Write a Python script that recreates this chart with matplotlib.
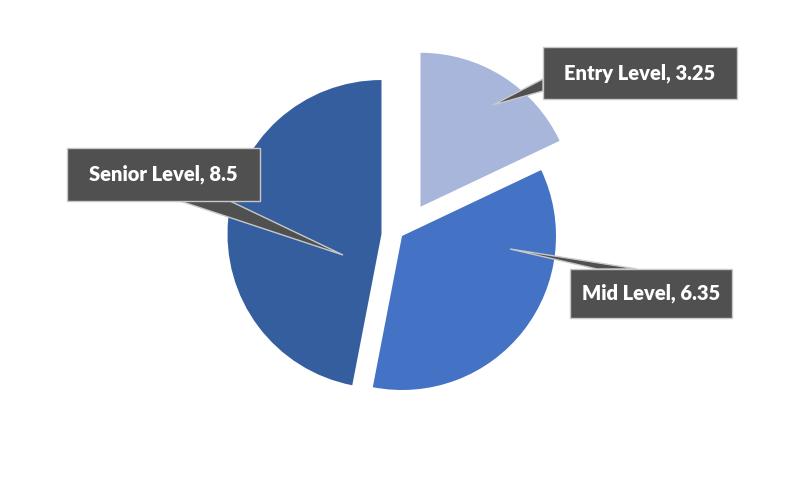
import matplotlib.pyplot as plt
from matplotlib.patches import Rectangle, Polygon

# data
levels = ['Entry Level', 'Mid Level', 'Senior Level']
salaries = [3.25, 6.35, 8.5]
colors = ['#A8B6DC', '#4472C4', '#355E9F']

W, H = 800, 480
fig = plt.figure(figsize=(8, 4.8), dpi=100)
ax = fig.add_axes([0, 0, 1, 1])

# pie in pixel-like units (y measured from the bottom)
ax.pie(salaries, colors=colors, startangle=90, counterclock=False,
       radius=154, center=(402, H - 236), explode=[34.6, 0, 20.6],
       wedgeprops=dict(linewidth=0))

# callout boxes: (x0, y0, x1, y1) in pixels from top-left, pointer tip + base
callouts = {
    'Entry Level': dict(box=(543, 47, 737, 99), tip=(493, 105), base=[(543, 79), (543, 91)]),
    'Mid Level': dict(box=(570, 269, 732, 318), tip=(510, 249), base=[(597, 269), (637, 269)]),
    'Senior Level': dict(box=(67, 148, 260, 201), tip=(343, 255), base=[(180, 201), (230, 201)]),
}

box_fc = '#505050'
box_ec = '#C8C8C8'
for name, val in zip(levels, salaries):
    c = callouts[name]
    pts = [c['tip']] + c['base']
    ax.add_patch(Polygon([(x, H - y) for x, y in pts], closed=True,
                         fc=box_fc, ec=box_ec, lw=1, zorder=3))
    x0, y0, x1, y1 = c['box']
    ax.add_patch(Rectangle((x0, H - y1), x1 - x0, y1 - y0,
                           fc=box_fc, ec=box_ec, lw=1, zorder=4))
    ax.text((x0 + x1) / 2, H - (y0 + y1) / 2, f'{name}, {val:g}',
            color='white', fontsize=14.5, fontweight='heavy', family='Lato',
            ha='center', va='center', zorder=5)

ax.set_xlim(0, W)
ax.set_ylim(0, H)
ax.set_aspect('equal')
ax.axis('off')

plt.savefig('out.png', dpi=100)
